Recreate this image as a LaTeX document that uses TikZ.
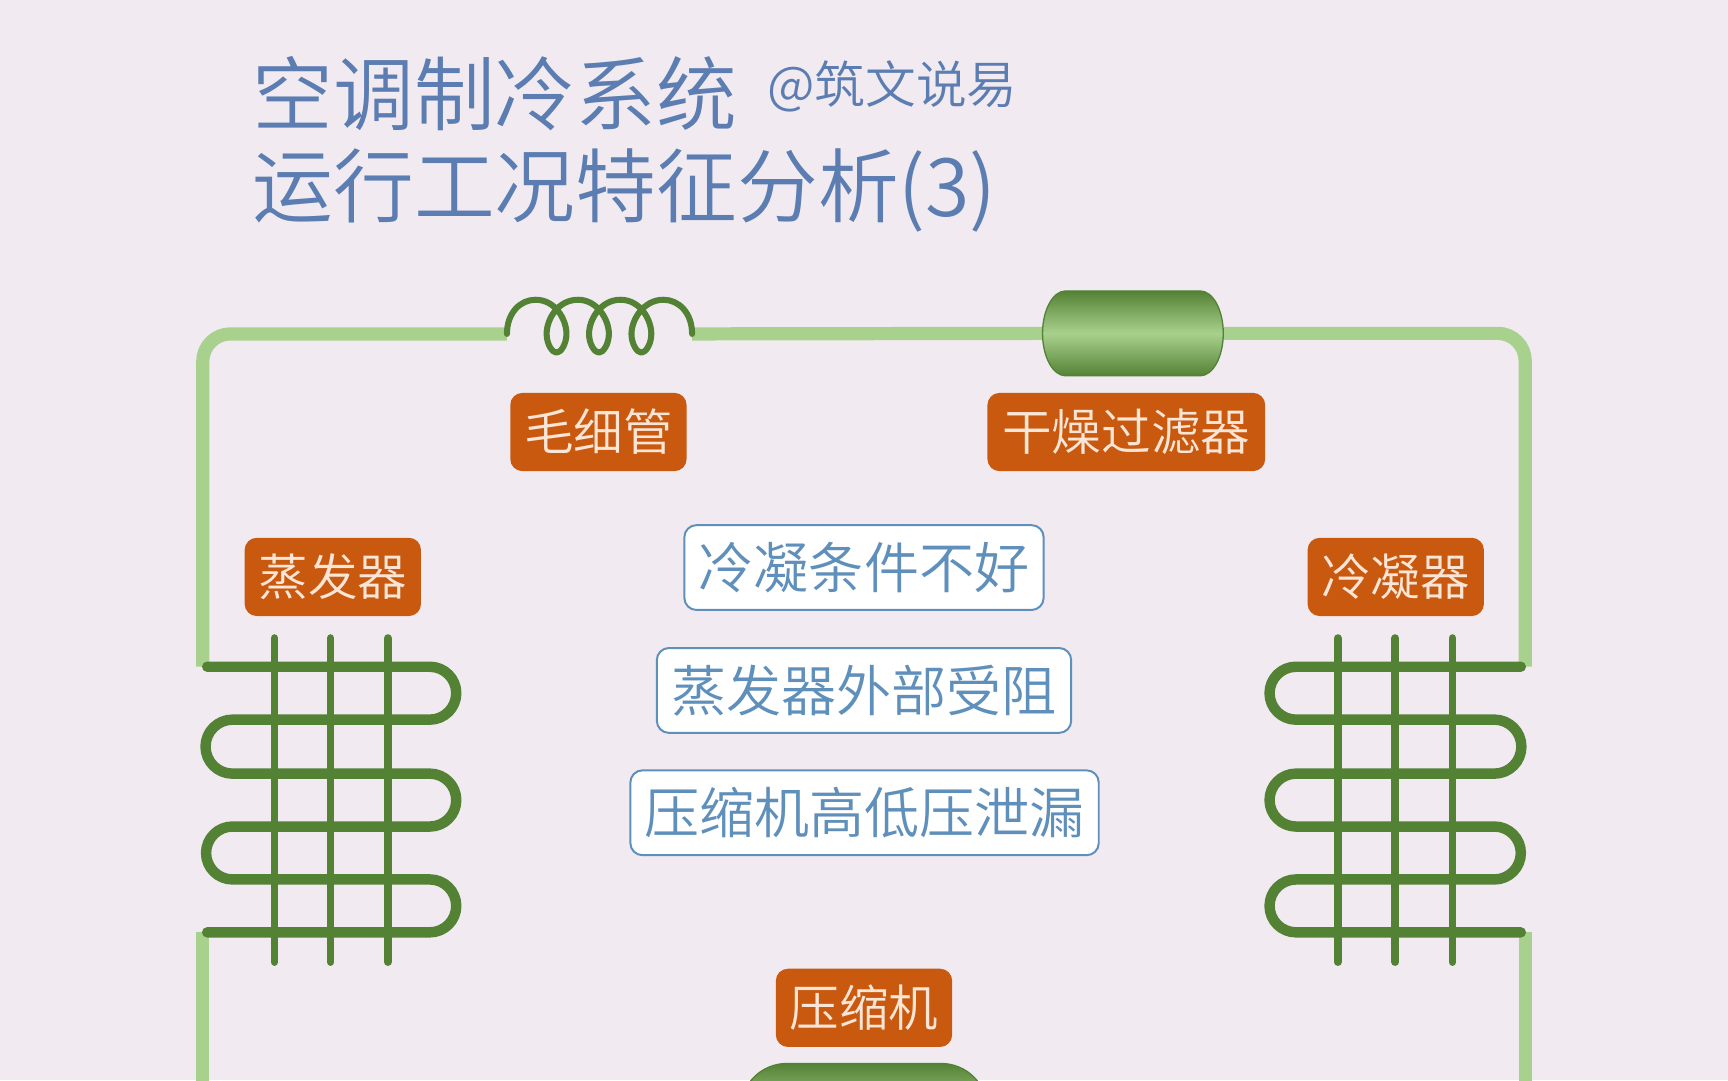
\documentclass[tikz,border=0pt]{standalone}
\usepackage{fontspec}
\setmainfont{Noto Sans CJK SC DemiLight}
\definecolor{bgc}{HTML}{F1EBF1}
\definecolor{pipec}{HTML}{A9D18E}
\definecolor{coilc}{HTML}{548235}
\definecolor{orangec}{HTML}{C9590F}
\definecolor{creamc}{HTML}{FBE5D6}
\definecolor{bluec}{HTML}{5F8FBB}
\definecolor{titlec}{HTML}{5B7DB1}
\tikzset{
  pipe/.style={line width=12pt,pipec,rounded corners=25pt},
  coil/.style={line width=9.5pt,coilc,line cap=round,line join=round},
  fin/.style={line width=7pt,coilc,line cap=round},
  spring/.style={line width=5.5pt,coilc,line cap=round,line join=round},
  tag/.style={fill=orangec,text=creamc,rounded corners=11pt,inner sep=0pt,minimum height=71pt,font=\fontsize{45}{45}\selectfont},
  fault/.style={fill=white,draw=bluec,line width=1.8pt,text=bluec,rounded corners=11pt,inner sep=0pt,minimum height=77pt,font=\fontsize{50}{50}\selectfont},
  titletext/.style={text=titlec,anchor=west,inner sep=0pt,font=\fontsize{73.3}{73.3}\selectfont},
  vessel/.style={draw=coilc,line width=1.2pt,top color=coilc,bottom color=coilc,middle color=pipec,inner sep=0pt}
}
\begin{document}
\begin{tikzpicture}[x=1pt,y=-1pt]
\clip (0,0) rectangle (1568,980);
\fill[bgc] (0,0) rectangle (1568,980);

\node[titletext] (title1) at (229,85) {空调制冷系统};
\node[titletext] (title2) at (229,173) {运行工况特征分析(3)};
\node[titletext,font=\fontsize{46}{46}\selectfont] (author) at (696,78) {@筑文说易};

% anchors of the pipe run
\coordinate (evapIn) at (184,605);
\coordinate (evapOut) at (184,846);
\coordinate (condIn) at (1384,846);
\coordinate (condOut) at (1384,605);
\coordinate (coilEvapIn) at (188,605);
\coordinate (coilEvapOut) at (188,846);
\coordinate (coilCondIn) at (1380,846);
\coordinate (coilCondOut) at (1380,605);
\coordinate (capL) at (460,303);
\coordinate (capR) at (628,303);
\coordinate (pipeBL) at (184,985);
\coordinate (pipeBR) at (1384,985);

\node[minimum width=164pt,minimum height=77pt,inner sep=0pt] (filter) at (1028,302.5) {};

\draw[pipe] (evapIn) |- (capL);
\draw[pipe] (capR) -- (filter.west);
\draw[pipe] (filter.east) -| (condOut);
\draw[pipe] (evapOut) -- (pipeBL);
\draw[pipe] (condIn) -- (pipeBR);

\path[vessel] (967,264) -- (1089,264)
  arc[start angle=-90,end angle=90,x radius=21,y radius=38.5]
  -- (967,341)
  arc[start angle=90,end angle=270,x radius=21,y radius=38.5] -- cycle;

% capillary
\draw[spring] (capL)
  .. controls (460,284) and (472,272) .. (486,272)
  .. controls (504,272) and (514,290) .. (514,303)
  .. controls (514,312) and (509,320) .. (505,320)
  .. controls (501,320) and (496,312) .. (496,303)
  .. controls (496,290) and (506,272) .. (524.5,272)
  .. controls (542,272) and (552.5,290) .. (552.5,303)
  .. controls (552.5,312) and (547.5,320) .. (543.5,320)
  .. controls (539.5,320) and (534.5,312) .. (534.5,303)
  .. controls (534.5,290) and (545,272) .. (563,272)
  .. controls (581,272) and (591,290) .. (591,303)
  .. controls (591,312) and (586,320) .. (582,320)
  .. controls (578,320) and (573,312) .. (573,303)
  .. controls (573,290) and (584,272) .. (602,272)
  .. controls (616,272) and (628,284) .. (capR);

% evaporator
\foreach \x in {249,300,352} \draw[fin] (\x,579) -- (\x,873);
\draw[coil] (coilEvapIn) -- (390,605) arc[start angle=-90,end angle=90,radius=24]
  -- (211,653) arc[start angle=270,end angle=90,radius=24.5]
  -- (390,702) arc[start angle=-90,end angle=90,radius=24]
  -- (211,750) arc[start angle=270,end angle=90,radius=24]
  -- (390,798) arc[start angle=-90,end angle=90,radius=24]
  -- (coilEvapOut);

% condenser
\foreach \x in {1214,1266,1318} \draw[fin] (\x,579) -- (\x,873);
\draw[coil] (coilCondOut) -- (1176,605) arc[start angle=270,end angle=90,radius=24]
  -- (1356,653) arc[start angle=-90,end angle=90,radius=24.5]
  -- (1176,702) arc[start angle=270,end angle=90,radius=24]
  -- (1356,750) arc[start angle=-90,end angle=90,radius=24]
  -- (1176,798) arc[start angle=270,end angle=90,radius=24]
  -- (coilCondIn);

% compressor
\node[vessel,minimum width=224pt,minimum height=90pt,rounded corners=42pt] (compressor) at (784,1010) {};

% labels
\node[tag,minimum width=160pt] (lblCap) at (543,392) {毛细管};
\node[tag,minimum width=252pt] (lblFilter) at (1022,392) {干燥过滤器};
\node[tag,minimum width=160pt] (lblEvap) at (302,523.5) {蒸发器};
\node[tag,minimum width=160pt] (lblCond) at (1266.5,523.5) {冷凝器};
\node[tag,minimum width=160pt] (lblComp) at (784,914.5) {压缩机};

\node[fault,minimum width=326pt] (f1) at (784,515) {冷凝条件不好};
\node[fault,minimum width=376pt] (f2) at (784,626.5) {蒸发器外部受阻};
\node[fault,minimum width=425pt] (f3) at (784.5,737.5) {压缩机高低压泄漏};
\end{tikzpicture}
\end{document}
